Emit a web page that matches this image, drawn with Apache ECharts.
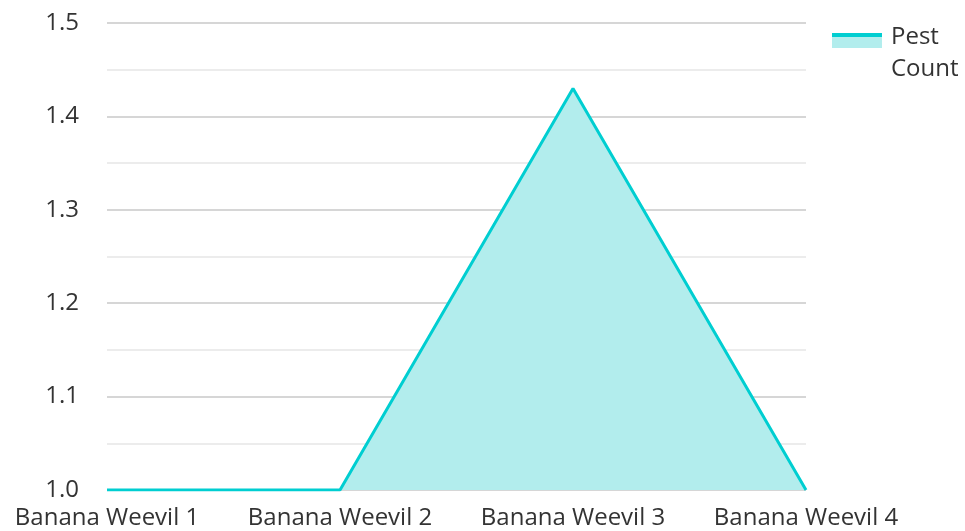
<!DOCTYPE html>
<html><head><meta charset="utf-8">
<script src="https://cdn.jsdelivr.net/npm/echarts@6/dist/echarts.min.js"></script>
<style>html,body{margin:0;padding:0;background:#fff}#c{width:965px;height:531px}</style>
</head><body><div id="c"></div>
<script>
const categories = ['Banana Weevil 1', 'Banana Weevil 2', 'Banana Weevil 3', 'Banana Weevil 4'];
const pestCount = [1.0, 1.0, 1.43, 1.0];
const seriesName = 'Pest Count';
const yTicks = { min: 1.0, max: 1.5, interval: 0.1 };

const chart = echarts.init(document.getElementById('c'));
const font = '"Open Sans", "Noto Sans", sans-serif';
const iconH = 41;
chart.setOption({
  animation: false,
  textStyle: { fontFamily: font },
  grid: { left: 107, right: 159, top: 23, bottom: 41 },
  legend: {
    left: 832, top: 21.5, padding: 0,
    itemWidth: 50, itemHeight: iconH, itemGap: 10,
    formatter: function (n) { return n.replace(' ', '\n'); },
    textStyle: { fontSize: 24, color: '#333', fontFamily: font, lineHeight: 32, padding: [0, 0, 0, 4] },
    data: [{
      name: seriesName,
      icon: 'path://M0,0L50,0L50,15L0,15Z M0,' + iconH + 'L0.01,' + iconH + 'L0.01,' + (iconH + 0.01) + 'Z',
      itemStyle: {
        color: new echarts.graphic.LinearGradient(0, 0, 0, 1, [
          { offset: 0, color: '#00CED1' }, { offset: 4 / iconH, color: '#00CED1' },
          { offset: 4 / iconH, color: '#B2EDED' }, { offset: 1, color: '#B2EDED' }
        ])
      }
    }]
  },
  xAxis: {
    type: 'category', data: categories, boundaryGap: false,
    axisLine: { show: false }, axisTick: { show: false },
    axisLabel: { fontSize: 24, color: '#333', fontFamily: font, margin: 16, interval: 0 }
  },
  yAxis: {
    type: 'value', min: yTicks.min, max: yTicks.max, interval: yTicks.interval,
    axisLine: { show: false }, axisTick: { show: false },
    axisLabel: { fontSize: 24, color: '#333', fontFamily: font, margin: 28, formatter: v => v.toFixed(1) },
    splitLine: { lineStyle: { color: '#c8c8c8', width: 1.5 } },
    minorTick: { show: false, splitNumber: 2 },
    minorSplitLine: { show: true, lineStyle: { color: '#e6e6e6', width: 1.5 } }
  },
  series: [{
    name: seriesName, type: 'line', data: pestCount,
    symbol: 'none',
    lineStyle: { color: '#00CED1', width: 3 },
    itemStyle: { color: '#00CED1' },
    areaStyle: { color: '#B2EDED', opacity: 1 }
  }]
});
</script></body></html>
